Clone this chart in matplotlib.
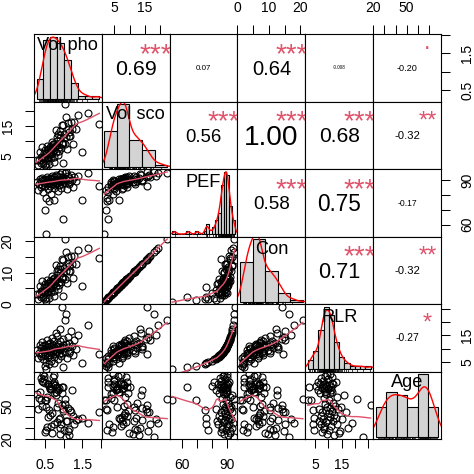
import numpy as np
import matplotlib
matplotlib.use("Agg")
import matplotlib.pyplot as plt
from matplotlib.font_manager import FontProperties
from matplotlib.textpath import TextPath
from matplotlib.transforms import ScaledTranslation, blended_transform_factory

plt.rcParams["font.family"] = ["Liberation Sans", "DejaVu Sans"]

names = ["Vol pho", "Vol sco", "PEF", "Con", "RLR", "Age"]

vol_pho = [0.66, 0.45, 0.84, 0.31, 1.08, 0.57, 0.73, 0.92, 0.38, 1.25,
           0.62, 0.50, 1.95, 0.77, 0.42, 0.88, 1.13, 0.67, 0.34, 0.96,
           0.54, 0.70, 1.04, 0.79, 0.47, 0.83, 0.61, 1.17, 0.27, 0.74,
           0.90, 0.53, 0.64, 1.32, 0.48, 0.86, 0.69, 1.01, 0.39, 0.76,
           0.94, 0.59, 1.10, 0.44, 0.81, 0.65, 1.22, 0.51, 0.97, 0.36,
           0.72, 1.05, 0.58, 0.85, 0.63, 1.15, 0.41, 0.89, 0.75, 1.28,
           0.55, 0.99, 0.68, 1.12, 0.82, 1.37, 0.78, 1.19, 0.91, 1.64,
           1.02, 1.07, 0.95,
           0.52, 0.98, 0.49, 0.60, 0.74, 1.50, 0.52]

vol_sco = [4.6, 2.8, 5.5, 2.2, 7.6, 4.8, 4.7, 7.8, 2.9, 9.2,
           6.0, 4.1, 15.9, 8.1, 4.8, 6.8, 11.7, 5.9, 3.9, 9.3,
           4.4, 7.8, 9.1, 6.4, 6.2, 8.9, 5.6, 11.7, 3.9, 7.2,
           11.0, 6.0, 7.5, 14.1, 4.9, 8.0, 8.4, 12.5, 4.9, 8.3,
           9.5, 7.6, 14.2, 4.6, 10.2, 7.2, 14.1, 7.3, 9.6, 6.5,
           9.0, 11.6, 7.1, 12.5, 8.1, 13.2, 8.2, 12.2, 9.1, 16.6,
           8.6, 15.5, 9.8, 16.2, 11.6, 18.6, 13.8, 16.5, 13.5, 19.4,
           22.4, 18.0, 15.6,
           1.7, 3.0, 2.2, 2.6, 3.1, 6.4, 2.6]

pef = [80.3, 81.8, 82.7, 83.0, 83.8, 84.0, 84.7, 84.6, 85.3, 85.2,
       85.9, 86.1, 86.0, 86.4, 86.6, 86.5, 86.9, 87.1, 86.9, 87.3,
       87.2, 87.5, 87.6, 87.8, 87.8, 88.1, 88.0, 88.4, 88.3, 88.6,
       88.5, 88.8, 88.9, 89.1, 89.0, 89.3, 89.2, 89.5, 89.4, 89.7,
       89.6, 89.9, 89.8, 90.1, 90.0, 90.3, 90.2, 90.5, 90.4, 90.6,
       90.5, 90.8, 90.9, 90.8, 91.2, 91.1, 91.5, 91.6, 91.8, 91.7,
       92.0, 92.1, 92.3, 92.4, 92.8, 92.9, 93.3, 93.5, 93.9, 94.3,
       94.8, 95.2, 95.6,
       53.7, 63.5, 69.7, 75.8, 76.3, 76.3, 77.9]

con = [3.9, 2.2, 4.7, 1.6, 6.7, 4.1, 4.0, 6.9, 2.3, 8.2,
       5.2, 3.4, 14.6, 7.2, 4.0, 6.0, 10.6, 5.1, 3.2, 8.3,
       3.7, 7.0, 8.1, 5.6, 5.4, 8.0, 4.8, 10.5, 3.3, 6.3,
       10.0, 5.1, 6.6, 12.9, 4.2, 7.1, 7.5, 11.4, 4.1, 7.4,
       8.5, 6.8, 13.0, 3.9, 9.2, 6.2, 12.8, 6.4, 8.6, 5.7,
       8.1, 10.5, 6.2, 11.3, 7.2, 12.0, 7.3, 11.1, 8.2, 15.3,
       7.7, 14.2, 8.8, 14.9, 10.6, 17.2, 12.6, 15.2, 12.3, 17.9,
       20.8, 16.6, 14.3,
       1.1, 2.4, 1.6, 2.0, 2.5, 5.6, 2.0]

rlr = [5.4, 6.0, 6.2, 6.4, 6.6, 6.8, 7.0, 7.1, 7.3, 7.4,
       7.6, 7.7, 7.8, 7.9, 8.0, 8.1, 8.2, 8.3, 8.4, 8.45,
       8.5, 8.6, 8.7, 8.8, 8.9, 9.0, 9.1, 9.2, 9.3, 9.4,
       9.5, 9.6, 9.7, 9.8, 9.9, 10.0, 10.1, 10.2, 10.3, 10.4,
       10.5, 10.6, 10.7, 10.8, 10.9, 11.0, 11.1, 11.2, 11.3, 11.4,
       11.5, 11.6, 11.8, 11.9, 12.1, 12.3, 12.5, 12.8, 13.0, 13.2,
       13.4, 13.6, 13.9, 14.3, 14.8, 15.2, 15.8, 16.5, 17.4, 18.8,
       20.9, 23.0, 25.9,
       2.3, 2.9, 3.5, 4.3, 4.4, 4.5, 4.8]

age = [68, 72, 64, 47, 36, 70, 62, 33, 75, 41,
       66, 26, 44, 69, 73, 38, 29, 65, 57, 67,
       31, 70, 52, 63, 77, 35, 68, 46, 61, 78,
       24, 49, 65, 37, 74, 66, 43, 28, 55, 69,
       62, 40, 48, 79, 67, 32, 64, 71, 45, 63,
       76, 36, 70, 53, 42, 23, 50, 39, 72, 33,
       58, 47, 25, 27, 49, 38, 60, 44, 30, 34,
       56, 22, 51,
       55, 67, 55, 46, 33, 39, 28]

data = [np.array(v, float) for v in (vol_pho, vol_sco, pef, con, rlr, age)]

tick_at = [[0.5, 1.0, 1.5, 2.0], [5, 10, 15, 20], [60, 70, 80, 90],
           [0, 5, 10, 15, 20], [5, 10, 15, 20, 25], [20, 30, 40, 50, 60, 70]]
tick_txt = [["0.5", "", "1.5", ""], ["5", "", "15", ""], ["60", "", "", "90"],
            ["0", "", "10", "", "20"], ["5", "", "15", "", ""], ["20", "", "", "50", "", ""]]

hist_breaks = [np.arange(0.2, 2.01, 0.2), np.arange(0, 25.1, 5), np.arange(52, 96.1, 2),
               np.arange(0, 25.1, 5), np.arange(2, 26.1, 2), np.arange(20, 80.1, 10)]

# upper panels: correlation text and significance stars as printed
cor_cells = [(0, 1), (0, 2), (0, 3), (0, 4), (0, 5),
             (1, 2), (1, 3), (1, 4), (1, 5),
             (2, 3), (2, 4), (2, 5),
             (3, 4), (3, 5), (4, 5)]
cor_r = [0.69, 0.07, 0.64, -0.008, -0.20, 0.56, 1.00, 0.68, -0.32,
         0.58, 0.75, -0.17, 0.71, -0.32, -0.27]
cor_txt = ["0.69", "0.07", "0.64", "-0.008", "-0.20", "0.56", "1.00", "0.68", "-0.32",
           "0.58", "0.75", "-0.17", "0.71", "-0.32", "-0.27"]
cor_stars = ["***", "", "***", "", ".", "***", "***", "***", "**",
             "***", "***", "", "***", "**", "*"]

SMOOTH = "#DF536B"


def lowess(x, y, f=2 / 3, iters=3):
    o = np.argsort(x, kind="mergesort")
    x, y = x[o], y[o]
    n = len(x)
    ns = max(min(int(round(f * n)), n), 2)
    rw = np.ones(n)
    fit = np.zeros(n)
    for it in range(iters + 1):
        for i in range(n):
            d = np.abs(x - x[i])
            h = max(np.sort(d)[ns - 1], 1e-12)
            w = np.clip(1 - (d / h) ** 3, 0, None) ** 3 * rw
            sw = w.sum()
            xm = (w * x).sum() / sw
            ym = (w * y).sum() / sw
            den = (w * (x - xm) ** 2).sum()
            b = (w * (x - xm) * (y - ym)).sum() / den if den > 1e-12 else 0.0
            fit[i] = ym + b * (x[i] - xm)
        res = y - fit
        s = np.median(np.abs(res))
        if s == 0:
            break
        rw = np.clip(1 - (res / (6 * s)) ** 2, 0, None) ** 2
    return x, fit


def kde(v, n=512):
    iqr = np.subtract(*np.percentile(v, [75, 25]))
    bw = 0.9 * min(v.std(ddof=1), iqr / 1.34) * len(v) ** -0.2
    g = np.linspace(v.min() - 3 * bw, v.max() + 3 * bw, n)
    d = np.exp(-0.5 * ((g[:, None] - v[None, :]) / bw) ** 2).sum(1)
    return g, d / (len(v) * bw * np.sqrt(2 * np.pi))


def pad(v):
    r = v.max() - v.min()
    return v.min() - 0.04 * r, v.max() + 0.04 * r


fig = plt.figure(figsize=(4.74, 4.74), dpi=100)
L, R, T, B = 34, 441, 34, 439
gs = fig.add_gridspec(6, 6, left=L / 474, right=R / 474, top=1 - T / 474, bottom=1 - B / 474,
                      wspace=0, hspace=0)
panel_px = (R - L) / 6
renderer = fig.canvas.get_renderer()


def text_w(s, size):
    t = fig.text(0, 0, s, fontsize=size)
    w = t.get_window_extent(renderer).width
    t.remove()
    return w


def ink_text(ax, x, y, s, size, color="black"):
    # centre the glyph ink on (x, y), like R's text()
    fp = FontProperties(family=plt.rcParams["font.family"], size=size)
    ext = TextPath((0, 0), s, size=size, prop=fp).get_extents()
    mid = (ext.y0 + ext.y1) / 2
    off = ScaledTranslation(0, -mid / 72, fig.dpi_scale_trans)
    ax.text(x, y, s, fontproperties=fp, color=color, ha="center", va="baseline",
            transform=ax.transAxes + off, clip_on=True)


lab_fs = 10 * 0.9 * panel_px / max(text_w(s, 10) for s in names)

for i in range(6):
    for j in range(6):
        ax = fig.add_subplot(gs[i, j])
        ax.set_xticks([])
        ax.set_yticks([])
        for sp in ax.spines.values():
            sp.set_linewidth(0.8)
        ax.set_xlim(pad(data[j]))
        ax.set_ylim(pad(data[i]))

        if i > j:
            ax.plot(data[j], data[i], "o", ms=5, mfc="none", mec="black", mew=0.8)
            sx, sy = lowess(data[j], data[i])
            ax.plot(sx, sy, color=SMOOTH, lw=1)
        elif i < j:
            k = cor_cells.index((i, j))
            base = 10 * 0.8 * panel_px / text_w(cor_txt[k], 10)
            ink_text(ax, 0.5, 0.5, cor_txt[k], base * (abs(cor_r[k]) + 0.3) / 1.3)
            if cor_stars[k]:
                ink_text(ax, 0.8, 0.8, cor_stars[k], base, color=SMOOTH)
        else:
            v = data[i]
            b = hist_breaks[i]
            idx = np.clip(np.searchsorted(b, v, side="left") - 1, 0, len(b) - 2)
            counts = np.bincount(idx, minlength=len(b) - 1)
            dens = counts / (len(v) * np.diff(b))
            ax.bar(b[:-1], dens, width=np.diff(b), align="edge", color="lightgray",
                   edgecolor="black", lw=0.8)
            g, d = kde(v)
            ax.plot(g, d, color="red", lw=1)
            ax.vlines(v, 0, 0.03, transform=blended_transform_factory(ax.transData, ax.transAxes),
                      color="black", lw=0.5)
            span = b[-1] - b[0]
            ax.set_xlim(b[0] - 0.04 * span, b[-1] + 0.04 * span)
            ax.set_ylim(-0.04 * dens.max(), 1.04 * dens.max())
            ink_text(ax, 0.5, 0.833, names[i], lab_fs)

        ax.tick_params(direction="out", length=6.5, width=0.75, pad=7.5, labelsize=10)
        if i == 0 and j % 2 == 1:
            ax.xaxis.set_ticks_position("top")
            ax.set_xticks(tick_at[j])
            ax.set_xticklabels(tick_txt[j])
        if i == 5 and j % 2 == 0:
            ax.set_xticks(tick_at[j])
            ax.set_xticklabels(tick_txt[j])
        if j == 0 and i % 2 == 1:
            ax.set_yticks(tick_at[i])
            ax.set_yticklabels(tick_txt[i], rotation=90, va="center")
        if j == 5 and i % 2 == 0:
            ax.yaxis.set_ticks_position("right")
            ax.set_yticks(tick_at[i])
            ax.set_yticklabels(tick_txt[i], rotation=90, va="center")

fig.savefig("out.png", dpi=100)
